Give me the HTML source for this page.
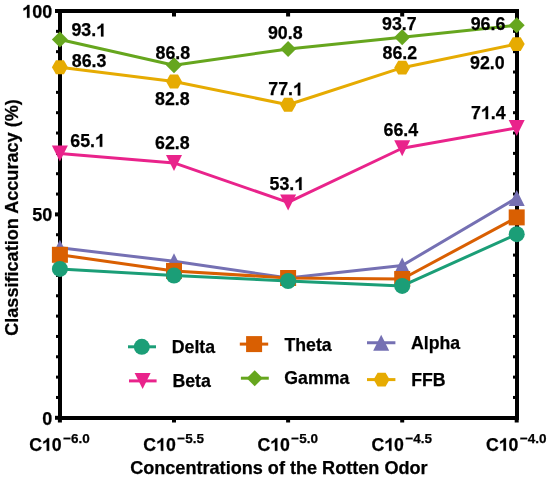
<!DOCTYPE html>
<html><head><meta charset="utf-8"><style>
html,body{margin:0;padding:0;background:#fff;}
svg{display:block;filter:blur(0.35px);}
text{font-family:"Liberation Sans",sans-serif;font-weight:bold;fill:#000;stroke:#000;stroke-width:0.25px;}
</style></head><body>
<svg width="550" height="480" viewBox="0 0 550 480">
<rect width="550" height="480" fill="#fff"/>
<path d="M60,418 L60,11 L517,11 L517,418 Z" fill="none" stroke="#000" stroke-width="4" stroke-linejoin="miter"/>
<rect x="57.9" y="418" width="4" height="4.5" fill="#000"/>
<rect x="172.0" y="418" width="4" height="4.5" fill="#000"/>
<rect x="172.0" y="11" width="4" height="5.5" fill="#000"/>
<rect x="286.1" y="418" width="4" height="4.5" fill="#000"/>
<rect x="286.1" y="11" width="4" height="5.5" fill="#000"/>
<rect x="400.2" y="418" width="4" height="4.5" fill="#000"/>
<rect x="400.2" y="11" width="4" height="5.5" fill="#000"/>
<rect x="514.7" y="418" width="4" height="4.5" fill="#000"/>
<rect x="55" y="415.80" width="5" height="4" fill="#000"/>
<rect x="56" y="395.96" width="3" height="3" fill="#000"/>
<rect x="513" y="395.96" width="3" height="3" fill="#000"/>
<rect x="56" y="375.62" width="3" height="3" fill="#000"/>
<rect x="513" y="375.62" width="3" height="3" fill="#000"/>
<rect x="56" y="355.28" width="3" height="3" fill="#000"/>
<rect x="513" y="355.28" width="3" height="3" fill="#000"/>
<rect x="56" y="334.94" width="3" height="3" fill="#000"/>
<rect x="513" y="334.94" width="3" height="3" fill="#000"/>
<rect x="56" y="314.60" width="3" height="3" fill="#000"/>
<rect x="513" y="314.60" width="3" height="3" fill="#000"/>
<rect x="56" y="294.26" width="3" height="3" fill="#000"/>
<rect x="513" y="294.26" width="3" height="3" fill="#000"/>
<rect x="56" y="273.92" width="3" height="3" fill="#000"/>
<rect x="513" y="273.92" width="3" height="3" fill="#000"/>
<rect x="56" y="253.58" width="3" height="3" fill="#000"/>
<rect x="513" y="253.58" width="3" height="3" fill="#000"/>
<rect x="56" y="233.24" width="3" height="3" fill="#000"/>
<rect x="513" y="233.24" width="3" height="3" fill="#000"/>
<rect x="55" y="212.40" width="5" height="4" fill="#000"/>
<rect x="56" y="192.56" width="3" height="3" fill="#000"/>
<rect x="513" y="192.56" width="3" height="3" fill="#000"/>
<rect x="56" y="172.22" width="3" height="3" fill="#000"/>
<rect x="513" y="172.22" width="3" height="3" fill="#000"/>
<rect x="56" y="151.88" width="3" height="3" fill="#000"/>
<rect x="513" y="151.88" width="3" height="3" fill="#000"/>
<rect x="56" y="131.54" width="3" height="3" fill="#000"/>
<rect x="513" y="131.54" width="3" height="3" fill="#000"/>
<rect x="56" y="111.20" width="3" height="3" fill="#000"/>
<rect x="513" y="111.20" width="3" height="3" fill="#000"/>
<rect x="56" y="90.86" width="3" height="3" fill="#000"/>
<rect x="513" y="90.86" width="3" height="3" fill="#000"/>
<rect x="56" y="70.52" width="3" height="3" fill="#000"/>
<rect x="513" y="70.52" width="3" height="3" fill="#000"/>
<rect x="56" y="50.18" width="3" height="3" fill="#000"/>
<rect x="513" y="50.18" width="3" height="3" fill="#000"/>
<rect x="56" y="29.84" width="3" height="3" fill="#000"/>
<rect x="513" y="29.84" width="3" height="3" fill="#000"/>
<rect x="55" y="9.00" width="5" height="4" fill="#000"/>
<path d="M59.90,67.26 L174.00,81.50 L288.10,104.70 L402.20,67.67 L516.70,44.06" fill="none" stroke="#E6AB02" stroke-width="3" stroke-linejoin="round"/>
<path d="M51.90,67.26L55.90,60.33L63.90,60.33L67.90,67.26L63.90,74.19L55.90,74.19Z" fill="#E6AB02"/>
<path d="M166.00,81.50L170.00,74.58L178.00,74.58L182.00,81.50L178.00,88.43L170.00,88.43Z" fill="#E6AB02"/>
<path d="M280.10,104.70L284.10,97.77L292.10,97.77L296.10,104.70L292.10,111.63L284.10,111.63Z" fill="#E6AB02"/>
<path d="M394.20,67.67L398.20,60.74L406.20,60.74L410.20,67.67L406.20,74.59L398.20,74.59Z" fill="#E6AB02"/>
<path d="M508.70,44.06L512.70,37.13L520.70,37.13L524.70,44.06L520.70,50.99L512.70,50.99Z" fill="#E6AB02"/>
<path d="M59.90,39.58 L174.00,65.22 L288.10,48.94 L402.20,37.14 L516.70,25.34" fill="none" stroke="#66A61E" stroke-width="3" stroke-linejoin="round"/>
<path d="M59.90,31.58L67.90,39.58L59.90,47.58L51.90,39.58Z" fill="#66A61E"/>
<path d="M174.00,57.22L182.00,65.22L174.00,73.22L166.00,65.22Z" fill="#66A61E"/>
<path d="M288.10,40.94L296.10,48.94L288.10,56.94L280.10,48.94Z" fill="#66A61E"/>
<path d="M402.20,29.14L410.20,37.14L402.20,45.14L394.20,37.14Z" fill="#66A61E"/>
<path d="M516.70,17.34L524.70,25.34L516.70,33.34L508.70,25.34Z" fill="#66A61E"/>
<path d="M59.90,153.54 L174.00,162.90 L288.10,202.38 L402.20,148.25 L516.70,127.90" fill="none" stroke="#E9238B" stroke-width="3" stroke-linejoin="round"/>
<path d="M51.90,145.54L67.90,145.54L59.90,161.54Z" fill="#E9238B"/>
<path d="M166.00,154.90L182.00,154.90L174.00,170.90Z" fill="#E9238B"/>
<path d="M280.10,194.38L296.10,194.38L288.10,210.38Z" fill="#E9238B"/>
<path d="M394.20,140.25L410.20,140.25L402.20,156.25Z" fill="#E9238B"/>
<path d="M508.70,119.90L524.70,119.90L516.70,135.90Z" fill="#E9238B"/>
<path d="M59.90,247.75 L174.00,261.30 L288.10,278.00 L402.20,265.50 L516.70,197.90" fill="none" stroke="#7570B3" stroke-width="3" stroke-linejoin="round"/>
<path d="M59.90,239.75L67.90,255.75L51.90,255.75Z" fill="#7570B3"/>
<path d="M174.00,253.30L182.00,269.30L166.00,269.30Z" fill="#7570B3"/>
<path d="M288.10,270.00L296.10,286.00L280.10,286.00Z" fill="#7570B3"/>
<path d="M402.20,257.50L410.20,273.50L394.20,273.50Z" fill="#7570B3"/>
<path d="M516.70,189.90L524.70,205.90L508.70,205.90Z" fill="#7570B3"/>
<path d="M59.90,254.80 L174.00,270.90 L288.10,278.00 L402.20,279.00 L516.70,217.40" fill="none" stroke="#D95F02" stroke-width="3" stroke-linejoin="round"/>
<rect x="51.90" y="246.80" width="16" height="16" fill="#D95F02"/>
<rect x="166.00" y="262.90" width="16" height="16" fill="#D95F02"/>
<rect x="280.10" y="270.00" width="16" height="16" fill="#D95F02"/>
<rect x="394.20" y="271.00" width="16" height="16" fill="#D95F02"/>
<rect x="508.70" y="209.40" width="16" height="16" fill="#D95F02"/>
<path d="M59.90,268.90 L174.00,275.50 L288.10,281.00 L402.20,285.90 L516.70,234.20" fill="none" stroke="#1B9E77" stroke-width="3" stroke-linejoin="round"/>
<circle cx="59.90" cy="268.90" r="8.00" fill="#1B9E77"/>
<circle cx="174.00" cy="275.50" r="8.00" fill="#1B9E77"/>
<circle cx="288.10" cy="281.00" r="8.00" fill="#1B9E77"/>
<circle cx="402.20" cy="285.90" r="8.00" fill="#1B9E77"/>
<circle cx="516.70" cy="234.20" r="8.00" fill="#1B9E77"/>
<text x="71.48" y="36.40" font-size="17.8">93.</text>
<path transform="translate(96.23,36.40) scale(0.00869,-0.00869)" d="M830,0 L550,0 L550,1050 Q470,975 370,918 Q260,857 150,820 L150,1075 Q300,1130 420,1225 Q540,1320 600,1466 L830,1466 Z" fill="#000" stroke="#000" stroke-width="28.8"/>
<text x="155.59" y="58.90" font-size="17.8">86.8</text>
<text x="267.98" y="39.20" font-size="17.8">90.8</text>
<text x="382.03" y="30.20" font-size="17.8">93.7</text>
<text x="470.73" y="30.20" font-size="17.8">96.6</text>
<text x="71.79" y="66.70" font-size="17.8">86.3</text>
<text x="155.04" y="105.10" font-size="17.8">82.8</text>
<text x="268.29" y="95.40" font-size="17.8">77.</text>
<path transform="translate(293.03,95.40) scale(0.00869,-0.00869)" d="M830,0 L550,0 L550,1050 Q470,975 370,918 Q260,857 150,820 L150,1075 Q300,1130 420,1225 Q540,1320 600,1466 L830,1466 Z" fill="#000" stroke="#000" stroke-width="28.8"/>
<text x="382.54" y="58.90" font-size="17.8">86.2</text>
<text x="470.03" y="68.70" font-size="17.8">92.0</text>
<text x="70.30" y="146.80" font-size="17.8">65.</text>
<path transform="translate(95.04,146.80) scale(0.00869,-0.00869)" d="M830,0 L550,0 L550,1050 Q470,975 370,918 Q260,857 150,820 L150,1075 Q300,1130 420,1225 Q540,1320 600,1466 L830,1466 Z" fill="#000" stroke="#000" stroke-width="28.8"/>
<text x="155.00" y="149.10" font-size="17.8">62.8</text>
<text x="269.60" y="190.00" font-size="17.8">53.</text>
<path transform="translate(294.35,190.00) scale(0.00869,-0.00869)" d="M830,0 L550,0 L550,1050 Q470,975 370,918 Q260,857 150,820 L150,1075 Q300,1130 420,1225 Q540,1320 600,1466 L830,1466 Z" fill="#000" stroke="#000" stroke-width="28.8"/>
<text x="383.50" y="136.20" font-size="17.8">66.4</text>
<text x="470.99" y="119.10" font-size="17.8">7</text>
<path transform="translate(480.88,119.10) scale(0.00869,-0.00869)" d="M830,0 L550,0 L550,1050 Q470,975 370,918 Q260,857 150,820 L150,1075 Q300,1130 420,1225 Q540,1320 600,1466 L830,1466 Z" fill="#000" stroke="#000" stroke-width="28.8"/>
<text x="490.78" y="119.10" font-size="17.8">.4</text>
<path transform="translate(22.17,17.80) scale(0.00879,-0.00879)" d="M830,0 L550,0 L550,1050 Q470,975 370,918 Q260,857 150,820 L150,1075 Q300,1130 420,1225 Q540,1320 600,1466 L830,1466 Z" fill="#000" stroke="#000" stroke-width="28.4"/>
<text x="32.18" y="17.80" font-size="18">00</text>
<text x="32.18" y="221.20" font-size="18">50</text>
<text x="42.19" y="424.60" font-size="18">0</text>
<text x="29.19" y="450.80" font-size="17.7">C</text>
<path transform="translate(41.97,450.80) scale(0.00864,-0.00864)" d="M830,0 L550,0 L550,1050 Q470,975 370,918 Q260,857 150,820 L150,1075 Q300,1130 420,1225 Q540,1320 600,1466 L830,1466 Z" fill="#000" stroke="#000" stroke-width="28.9"/>
<text x="51.82" y="450.80" font-size="17.7">0</text>
<text x="63.16" y="442.6" font-size="13.5">−6.0</text>
<text x="143.29" y="450.80" font-size="17.7">C</text>
<path transform="translate(156.07,450.80) scale(0.00864,-0.00864)" d="M830,0 L550,0 L550,1050 Q470,975 370,918 Q260,857 150,820 L150,1075 Q300,1130 420,1225 Q540,1320 600,1466 L830,1466 Z" fill="#000" stroke="#000" stroke-width="28.9"/>
<text x="165.92" y="450.80" font-size="17.7">0</text>
<text x="177.26" y="442.6" font-size="13.5">−5.5</text>
<text x="257.39" y="450.80" font-size="17.7">C</text>
<path transform="translate(270.17,450.80) scale(0.00864,-0.00864)" d="M830,0 L550,0 L550,1050 Q470,975 370,918 Q260,857 150,820 L150,1075 Q300,1130 420,1225 Q540,1320 600,1466 L830,1466 Z" fill="#000" stroke="#000" stroke-width="28.9"/>
<text x="280.02" y="450.80" font-size="17.7">0</text>
<text x="291.36" y="442.6" font-size="13.5">−5.0</text>
<text x="371.49" y="450.80" font-size="17.7">C</text>
<path transform="translate(384.27,450.80) scale(0.00864,-0.00864)" d="M830,0 L550,0 L550,1050 Q470,975 370,918 Q260,857 150,820 L150,1075 Q300,1130 420,1225 Q540,1320 600,1466 L830,1466 Z" fill="#000" stroke="#000" stroke-width="28.9"/>
<text x="394.12" y="450.80" font-size="17.7">0</text>
<text x="405.46" y="442.6" font-size="13.5">−4.5</text>
<text x="485.99" y="450.80" font-size="17.7">C</text>
<path transform="translate(498.77,450.80) scale(0.00864,-0.00864)" d="M830,0 L550,0 L550,1050 Q470,975 370,918 Q260,857 150,820 L150,1075 Q300,1130 420,1225 Q540,1320 600,1466 L830,1466 Z" fill="#000" stroke="#000" stroke-width="28.9"/>
<text x="508.62" y="450.80" font-size="17.7">0</text>
<text x="519.96" y="442.6" font-size="13.5">−4.0</text>
<text x="278.9" y="473.5" font-size="18.1" text-anchor="middle">Concentrations of the Rotten Odor</text>
<text transform="translate(18.3,217.5) rotate(-90)" font-size="18.1" text-anchor="middle">Classification Accuracy (%)</text>
<line x1="128" y1="346.8" x2="156" y2="346.8" stroke="#1B9E77" stroke-width="3"/>
<circle cx="141.80" cy="346.80" r="8.00" fill="#1B9E77"/>
<text x="171.82" y="353.1" font-size="17.7">Delta</text>
<line x1="129" y1="380.9" x2="156.6" y2="380.9" stroke="#E9238B" stroke-width="3"/>
<path d="M134.60,372.90L150.60,372.90L142.60,388.90Z" fill="#E9238B"/>
<text x="172.42" y="386.9" font-size="17.7">Beta</text>
<line x1="239.8" y1="344.1" x2="268.2" y2="344.1" stroke="#D95F02" stroke-width="3"/>
<rect x="246.10" y="336.10" width="16" height="16" fill="#D95F02"/>
<text x="284.50" y="350.8" font-size="17.7">Theta</text>
<line x1="240.9" y1="378.2" x2="268.8" y2="378.2" stroke="#66A61E" stroke-width="3"/>
<path d="M254.70,370.20L262.70,378.20L254.70,386.20L246.70,378.20Z" fill="#66A61E"/>
<text x="284.37" y="384.3" font-size="17.7">Gamma</text>
<line x1="367" y1="342.75" x2="395.4" y2="342.75" stroke="#7570B3" stroke-width="3"/>
<path d="M381.20,334.75L389.20,350.75L373.20,350.75Z" fill="#7570B3"/>
<text x="411.06" y="349.1" font-size="17.7">Alpha</text>
<line x1="367" y1="379.6" x2="395.4" y2="379.6" stroke="#E6AB02" stroke-width="3"/>
<path d="M373.60,379.60L377.60,372.67L385.60,372.67L389.60,379.60L385.60,386.53L377.60,386.53Z" fill="#E6AB02"/>
<text x="411.22" y="385.5" font-size="17.7">FFB</text>
</svg>
</body></html>
